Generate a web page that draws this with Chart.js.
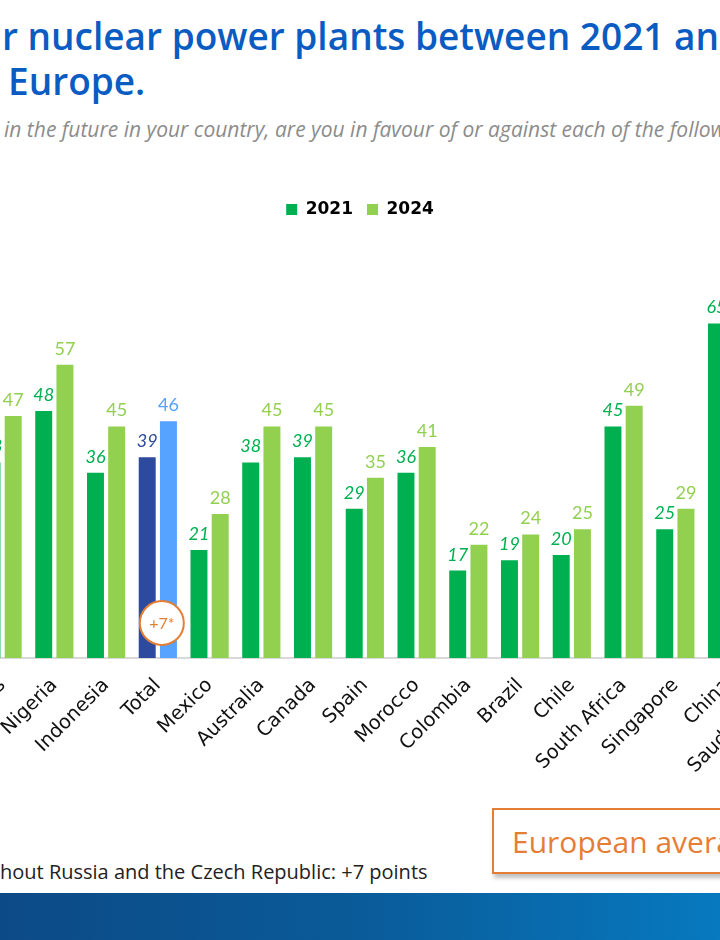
<!DOCTYPE html>
<html>
<head>
<meta charset="utf-8">
<script src="https://cdn.jsdelivr.net/npm/chart.js@4"></script>
<style>
  body { margin: 0; width: 720px; height: 940px; overflow: hidden; position: relative; background: #fff; }
  .title { position: absolute; left: 2px; white-space: nowrap; color: #0a5cc2; font-family: "Open Sans", sans-serif; font-weight: 600; font-size: 37px; }
  #subtitle { position: absolute; left: 4px; top: 115px; white-space: nowrap; color: #8c8c8c; font-family: "Open Sans", sans-serif; font-style: italic; font-size: 21px; }
  #chartBox { position: absolute; left: -120px; top: 187px; }
  #note { position: absolute; left: 0; top: 858px; white-space: nowrap; color: #222; font-family: "Open Sans", sans-serif; font-size: 20px; }
  #euBox { position: absolute; left: 492px; top: 808px; width: 300px; height: 62px; border: 2px solid #e57e35; background: #fff; box-shadow: 2px 4px 4px rgba(0,0,0,0.25); }
  #euBox span { position: absolute; left: 18px; top: 11px; white-space: nowrap; color: #e57e35; font-family: "Open Sans", sans-serif; font-size: 30px; }
  #band { position: absolute; left: 0; top: 893px; width: 720px; height: 47px; background: linear-gradient(90deg, #0c4a86 0%, #0a5b99 50%, #0779bf 100%); }
</style>
</head>
<body>
<div class="title" style="top: 10px;">r nuclear power plants between 2021 and</div>
<div class="title" style="top: 55px; left: 8px;">Europe.</div>
<div id="subtitle">in the future in your country, are you in favour of or against each of the following</div>
<div id="chartBox"><canvas id="chart" width="960" height="611"></canvas></div>
<div id="note">hout Russia and the Czech Republic: +7 points</div>
<div id="euBox"><span>European average</span></div>
<div id="band"></div>
<script>
// --- DATA ---
const categories = ['United States', 'Nigeria', 'Indonesia', 'Total', 'Mexico', 'Australia', 'Canada', 'Spain',
  'Morocco', 'Colombia', 'Brazil', 'Chile', 'South Africa', 'Singapore', 'China', 'Saudi Arabia'];
const values2021 = [38, 48, 36, 39, 21, 38, 39, 29, 36, 17, 19, 20, 45, 25, 65, 50];
const values2024 = [47, 57, 45, 46, 28, 45, 45, 35, 41, 22, 24, 25, 49, 29, 70, 56];
const seriesNames = ['2021', '2024'];
const totalNote = '+7*';

const green21 = '#00b050', green24 = '#92d050';
const blue21 = '#2e4a9e', blue24 = '#55a2ff';
const isTotal = i => categories[i] === 'Total';

// value labels + the "+7*" circle on Total
const labelPlugin = {
  id: 'valueLabels',
  afterDatasetsDraw(chart) {
    const ctx = chart.ctx;
    ctx.save();
    ctx.textAlign = 'center';
    ctx.textBaseline = 'alphabetic';
    chart.data.datasets.forEach((ds, d) => {
      chart.getDatasetMeta(d).data.forEach((bar, i) => {
        ctx.font = (d === 0 ? 'italic ' : '') + '18px Lato, sans-serif';
        ctx.fillStyle = isTotal(i) ? (d === 0 ? blue21 : blue24) : (d === 0 ? green21 : green24);
        ctx.fillText(ds.data[i], bar.x, bar.y - 10);
      });
    });
    const ti = categories.indexOf('Total');
    const cx = chart.scales.x.getPixelForValue(ti) + 4;
    const cy = chart.scales.y.bottom - 35;
    ctx.beginPath();
    ctx.arc(cx, cy, 22, 0, Math.PI * 2);
    ctx.fillStyle = '#fff';
    ctx.fill();
    ctx.lineWidth = 2;
    ctx.strokeStyle = '#e57e35';
    ctx.stroke();
    ctx.fillStyle = '#e57e35';
    ctx.font = '16px Lato, sans-serif';
    ctx.textBaseline = 'middle';
    ctx.fillText(totalNote, cx, cy + 1);
    ctx.restore();
  }
};

// fixed legend height, and legend centred on the page rather than on the (offset) plot
const legendFix = {
  id: 'legendFix',
  beforeInit(chart) {
    const lg = chart.legend;
    const fit = lg.fit;
    lg.fit = function() { fit.bind(lg)(); this.height = 85; };
    const draw = lg.draw;
    lg.draw = function() {
      const shift = chart.width / 2 - (this.left + this.right) / 2;
      chart.ctx.save();
      chart.ctx.translate(shift, 0);
      draw.bind(lg)();
      chart.ctx.restore();
    };
  }
};

new Chart(document.getElementById('chart'), {
  type: 'bar',
  data: {
    labels: categories,
    datasets: [{
      label: seriesNames[0],
      data: values2021,
      backgroundColor: c => isTotal(c.dataIndex) ? blue21 : green21
    }, {
      label: seriesNames[1],
      data: values2024,
      backgroundColor: c => isTotal(c.dataIndex) ? blue24 : green24
    }]
  },
  options: {
    responsive: false,
    animation: false,
    categoryPercentage: 0.82,
    barPercentage: 0.8,
    layout: { padding: { left: 96.7, right: 35.3, top: 0, bottom: 0 } },
    plugins: {
      legend: {
        position: 'top',
        labels: {
          boxWidth: 11, boxHeight: 11, padding: 14, color: '#111',
          font: { family: 'DejaVu Sans', size: 17, weight: 'bold' },
          generateLabels: chart => chart.data.datasets.map((ds, i) => ({
            text: ds.label, fillStyle: i === 0 ? green21 : green24, strokeStyle: 'transparent', lineWidth: 0, datasetIndex: i
          }))
        }
      },
      tooltip: { enabled: false }
    },
    scales: {
      x: {
        grid: { display: false, drawTicks: false },
        border: { display: true, color: '#d9d9d9', width: 2 },
        ticks: {
          autoSkip: false, minRotation: 45, maxRotation: 45, padding: 16, color: '#111',
          font: { family: 'DejaVu Sans', size: 19.5 }
        },
        afterFit(scale) { scale.height = 140; }
      },
      y: { display: false, min: 0, max: 75 }
    }
  },
  plugins: [labelPlugin, legendFix]
});
</script>
</body>
</html>
